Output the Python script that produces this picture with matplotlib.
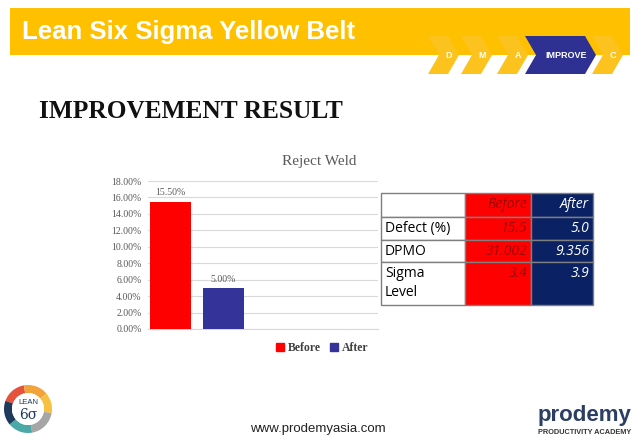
import numpy as np
import matplotlib.pyplot as plt
from matplotlib.patches import Rectangle, Polygon, Wedge

# chart data
categories = ["Before", "After"]
reject_pct = [15.5, 5.0]
bar_colors = ["#FF0000", "#333399"]
y_ticks = [0, 2, 4, 6, 8, 10, 12, 14, 16, 18]

# table data
table_header = ["", "Before", "After"]
table_labels = ["Defect (%)", "DPMO", "Sigma\nLevel"]
before_vals = ["15.5", "31.002", "3.4"]
after_vals = ["5.0", "9.356", "3.9"]

# DMAIC phases
phases = ["D", "M", "A", "IMPROVE", "C"]
active_phase = "IMPROVE"

W, H = 638, 442
SERIF = "Liberation Serif"
SANS = "Liberation Sans"

fig = plt.figure(figsize=(W / 100, H / 100), dpi=100)
bg = fig.add_axes([0, 0, 1, 1])
bg.set_xlim(0, W)
bg.set_ylim(H, 0)
bg.axis("off")

# --- banner ---
bg.add_patch(Rectangle((10, 8), 620, 47, color="#FFC000", lw=0))
bg.text(22, 32, "Lean Six Sigma Yellow Belt", color="white", fontsize=18.5,
        fontweight="bold", family=SANS, va="center")


def chevron(x0, w, color, top=36, bot=74, d=11):
    mid = (top + bot) / 2
    pts = [(x0, top), (x0 + w, top), (x0 + w + d, mid),
           (x0 + w, bot), (x0, bot), (x0 + d, mid)]
    bg.add_patch(Polygon(pts, closed=True, color=color, lw=0))


chev_x = [428, 461, 497, 525, 592]
chev_w = [20, 20, 20, 60, 20]
for name, x0, w in zip(phases, chev_x, chev_w):
    col = "#2E3192" if name == active_phase else "#FCC21E"
    chevron(x0, w, col)
    bg.text(x0 + 11 + w / 2, 55, name, color="white", fontsize=6.5,
            fontweight="bold", family=SANS, ha="center", va="center")

# --- slide title ---
bg.text(39, 112, "IMPROVEMENT RESULT", fontsize=18.3, fontweight="bold",
        family=SERIF, va="center", color="#111111")

# --- bar chart ---
ax = fig.add_axes([148 / W, (H - 329) / H, (378 - 148) / W, (329 - 181) / H])
x = np.arange(len(categories))
ax.bar(x, reject_pct, width=0.78, color=bar_colors, zorder=3)
ax.set_xlim(-0.43, 3.95)
ax.set_ylim(0, 18)
ax.set_yticks(y_ticks)
ax.set_yticklabels([f"{v:.2f}%" for v in y_ticks], family=SERIF)
ax.set_xticks([])
ax.tick_params(axis="y", length=0, pad=4.5, labelsize=7, labelcolor="#595959")
ax.grid(axis="y", color="#D9D9D9", lw=0.8, zorder=0)
for s in ["left", "right", "top"]:
    ax.spines[s].set_visible(False)
ax.spines["bottom"].set_color("#D9D9D9")
for xi, v in zip(x, reject_pct):
    ax.text(xi, v + 0.5, f"{v:.2f}%", ha="center", va="bottom", fontsize=7,
            family=SERIF, color="#595959")

bg.text(319, 162, "Reject Weld", ha="center", va="center", fontsize=11,
        family=SERIF, color="#595959")

handles = [Rectangle((0, 0), 1, 1, color=c) for c in bar_colors]
fig.legend(handles, categories, loc="center", bbox_to_anchor=(322 / W, 1 - 348 / H),
           ncol=2, frameon=False, handlelength=0.7, handleheight=0.7,
           handletextpad=0.3, columnspacing=0.8,
           prop={"family": SERIF, "weight": "bold", "size": 8.5},
           labelcolor="#404040")

# --- table ---
col_x = [381, 465, 531, 593]
row_y = [193, 217, 240, 262, 305]
col_fill = ["white", "#FF0000", "#0A2263"]
col_text = ["black", "#9A0000", "white"]
grid_c = "#7F7F7F"

cells = [table_header] + [[lab, b, a] for lab, b, a in zip(table_labels, before_vals, after_vals)]
for r, row in enumerate(cells):
    y0, y1 = row_y[r], row_y[r + 1]
    for c, txt in enumerate(row):
        x0, x1 = col_x[c], col_x[c + 1]
        bg.add_patch(Rectangle((x0, y0), x1 - x0, y1 - y0, facecolor=col_fill[c],
                               edgecolor=grid_c, lw=1))
        if not txt:
            continue
        ty = y0 + 11.5
        if c == 0:
            lines = txt.split("\n")
            for k, ln in enumerate(lines):
                bg.text(x0 + 4, ty + k * 19, ln, fontsize=10, family="Open Sans",
                        color="black", va="center", ha="left")
        else:
            bg.text(x1 - 4, ty, txt, fontsize=10, family="Open Sans", style="italic",
                    color=col_text[c], va="center", ha="right")

# --- footer ---
bg.text(318, 429, "www.prodemyasia.com", ha="center", va="center", fontsize=9.5,
        family=SANS, color="#222222")

# LEAN logo ring (y axis is inverted, so angles run clockwise on screen)
ring = [(-160, -100, "#E5533D"), (-100, -40, "#F2A33A"), (-40, 10, "#F6C142"),
        (10, 80, "#A6A6A6"), (80, 140, "#4AA9A7"), (140, 200, "#1F3B5C")]
for a0, a1, c in ring:
    bg.add_patch(Wedge((28, 409), 24, a0, a1, width=8, color=c, lw=0))
bg.add_patch(Wedge((28, 409), 16, 0, 360, color="white", lw=0))
bg.text(28, 402, "LEAN", ha="center", va="center", fontsize=5.5, color="#1F3B5C",
        family=SANS)
bg.text(28, 415, "6σ", ha="center", va="center", fontsize=10, color="#1F3B5C",
        family="DejaVu Serif")

# prodemy logo
bg.text(585, 415, "prodemy", ha="center", va="center", fontsize=16, fontweight="bold",
        family=SANS, color="#2C3E63")
bg.text(585, 433, "PRODUCTIVITY ACADEMY", ha="center", va="center", fontsize=5.3,
        fontweight="bold", family=SANS, color="#333333")

fig.savefig("out.png", dpi=100)
